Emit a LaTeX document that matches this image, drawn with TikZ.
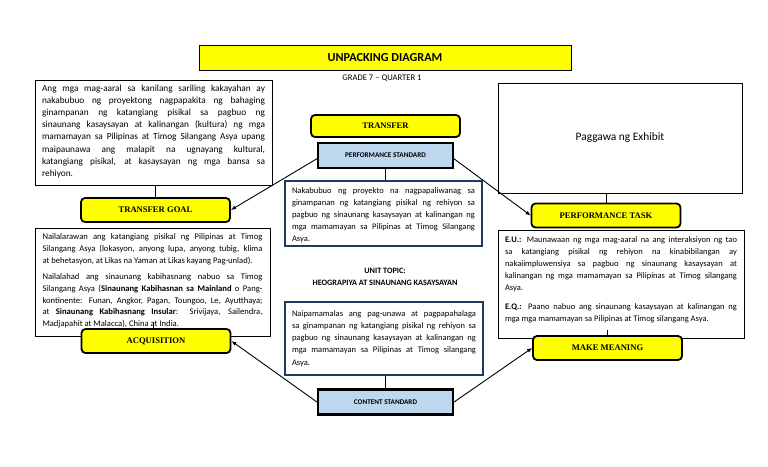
\documentclass[tikz,border=0pt]{standalone}
\usepackage{fontspec}
\setmainfont{Carlito}
\newfontfamily\labelfont{Liberation Serif}
\usetikzlibrary{arrows.meta}
\definecolor{yel}{HTML}{FFFF00}
\definecolor{lblue}{HTML}{BDD7EE}
\definecolor{navy}{HTML}{1F3864}
\begin{document}
\begin{tikzpicture}[x=1pt,y=-1pt,
  ybox/.style={draw=black, line width=1.8pt, fill=yel, rounded corners=4pt, minimum width=149pt, minimum height=24pt, inner sep=0pt, font=\labelfont\bfseries\fontsize{8.6}{10}\selectfont},
  bbox/.style={draw=black, line width=1.3pt, fill=lblue, minimum width=135pt, minimum height=25pt, inner sep=0pt, font=\bfseries\fontsize{7.2}{8}\selectfont},
  tbox/.style={draw=black, line width=1pt, fill=white, inner sep=0pt},
  nbox/.style={draw=navy, line width=1.6pt, fill=white, inner sep=0pt},
  body/.style={inner sep=0pt, align=justify, anchor=north},
  conn/.style={draw=black, line width=0.9pt},
  arr/.style={conn, -{Latex[length=5pt,width=4pt]}},
]
\useasboundingbox[fill=white] (0,0) rectangle (768,466);

% title
\node[draw=black, line width=0.8pt, fill=yel, minimum width=372pt, minimum height=25pt, inner sep=0pt,
      font=\bfseries\fontsize{12.2}{14}\selectfont] (title) at (385,58) {UNPACKING DIAGRAM};
\node[inner sep=0pt, font=\fontsize{8.6}{10}\selectfont] (grade) at (382,78) {GRADE 7 -- QUARTER 1};

% left column
\node[tbox, minimum width=237pt, minimum height=105pt] (tlbox) at (153.5,132.5) {};
\node[body, text width=223pt, font=\fontsize{9.3}{12.2}\selectfont] (tltext) at ([yshift=-5pt]tlbox.north)
 {Ang mga mag-aaral sa kanilang sariling kakayahan ay\linebreak
  nakabubuo ng proyektong nagpapakita ng bahaging\linebreak
  ginampanan ng katangiang pisikal sa pagbuo ng\linebreak
  sinaunang kasaysayan at kalinangan (kultura) ng mga\linebreak
  mamamayan sa Pilipinas at Timog Silangang Asya upang\linebreak
  maipaunawa ang malapit na ugnayang kultural,\linebreak
  katangiang pisikal, at kasaysayan ng mga bansa sa\linebreak
  rehiyon.};

\node[tbox, minimum width=235pt, minimum height=108pt] (acqbox) at (152.5,282) {};
\node[body, text width=220pt, font=\fontsize{8.6}{11.7}\selectfont] (acqtext) at ([yshift=-6pt]acqbox.north)
 {Nailalarawan ang katangiang pisikal ng Pilipinas at Timog\linebreak
  Silangang Asya (lokasyon, anyong lupa, anyong tubig, klima\linebreak
  at behetasyon, at Likas na Yaman at Likas kayang Pag-unlad).\par\vspace{5pt}
  Nailalahad ang sinaunang kabihasnang nabuo sa Timog\linebreak
  Silangang Asya (\textbf{Sinaunang Kabihasnan sa Mainland} o Pang-\linebreak
  kontinente: Funan, Angkor, Pagan, Toungoo, Le, Ayutthaya;\linebreak
  at \textbf{Sinaunang Kabihasnang Insular}: Srivijaya, Sailendra,\linebreak
  Madjapahit at Malacca), China at India.};

\node[ybox] (tgoal) at (155.5,210) {TRANSFER GOAL};
\node[ybox] (acq) at (156,341) {ACQUISITION};

% middle column
\node[ybox, minimum height=22pt] (transfer) at (385.5,126) {TRANSFER};
\node[bbox] (pstd) at (385.5,155.5) {PERFORMANCE STANDARD};
\node[nbox, minimum width=197pt, minimum height=65pt] (pbox) at (383.5,213.5) {};
\node[body, text width=183pt, font=\fontsize{8.5}{12}\selectfont] (ptext) at ([yshift=-7pt]pbox.north)
 {Nakabubuo ng proyekto na nagpapaliwanag sa\linebreak
  ginampanan ng katangiang pisikal ng rehiyon sa\linebreak
  pagbuo ng sinaunang kasaysayan at kalinangan ng\linebreak
  mga mamamayan sa Pilipinas at Timog Silangang\linebreak
  Asya.};

\node[inner sep=0pt, align=center, font=\bfseries\fontsize{8.2}{11.5}\selectfont] (topic) at (385,277)
 {UNIT TOPIC:\\HEOGRAPIYA AT SINAUNANG KASAYSAYAN};

\node[nbox, minimum width=198pt, minimum height=73pt] (cbox) at (384,338.5) {};
\node[body, text width=184pt, font=\fontsize{8.5}{12.2}\selectfont] (ctext) at ([yshift=-9pt]cbox.north)
 {Naipamamalas ang pag-unawa at pagpapahalaga\linebreak
  sa ginampanan ng katangiang pisikal ng rehiyon sa\linebreak
  pagbuo ng sinaunang kasaysayan at kalinangan ng\linebreak
  mga mamamayan sa Pilipinas at Timog silangang\linebreak
  Asya.};
\node[bbox, line width=2.2pt] (cstd) at (385.5,402) {CONTENT STANDARD};

% right column
\node[tbox, minimum width=244pt, minimum height=110pt, font=\fontsize{11.4}{13}\selectfont] (exhibit) at (620,138) {Paggawa ng Exhibit};
\node[tbox, minimum width=246pt, minimum height=108pt] (mmbox) at (621,284) {};
\node[body, text width=232pt, font=\fontsize{8.5}{12}\selectfont] (mmtext) at ([yshift=-7pt]mmbox.north)
 {\textbf{E.U.:} Maunawaan ng mga mag-aaral na ang interaksiyon ng tao\linebreak
  sa katangiang pisikal ng rehiyon na kinabibilangan ay\linebreak
  nakaiimpluwensiya sa pagbuo ng sinaunang kasaysayan at\linebreak
  kalinangan ng mga mamamayan sa Pilipinas at Timog silangang\linebreak
  Asya.\par\vspace{7pt}
  \textbf{E.Q.:} Paano nabuo ang sinaunang kasaysayan at kalinangan ng\linebreak
  mga mga mamamayan sa Pilipinas at Timog silangang Asya.};

\node[ybox] (ptask) at (606,215.5) {PERFORMANCE TASK};
\node[ybox] (mm) at (607.5,348) {MAKE MEANING};

% connectors
\coordinate (acqtop) at (153,322);
\coordinate (mmtop) at (607,330);
\draw[conn] (tlbox.south -| tgoal.north) -- (tgoal.north);
\draw[conn] (acq.north -| acqtop) -- (acqtop);
\draw[conn] (exhibit.south -| ptask.north) -- (ptask.north);
\draw[conn] (mm.north -| mmtop) -- (mmtop);
\draw[conn] (pstd.south) -- (pstd.south |- pbox.north);
\draw[conn] (cbox.south -| cstd.north) -- (cstd.north);
\draw[arr] ([yshift=-3pt]pstd.west) -- (tgoal.east);
\draw[arr] ([yshift=-3pt]pstd.east) -- (ptask.west);
\draw[arr] (cstd.west) -- (acq.east);
\draw[arr] (cstd.east) -- (mm.west);
\end{tikzpicture}
\end{document}
